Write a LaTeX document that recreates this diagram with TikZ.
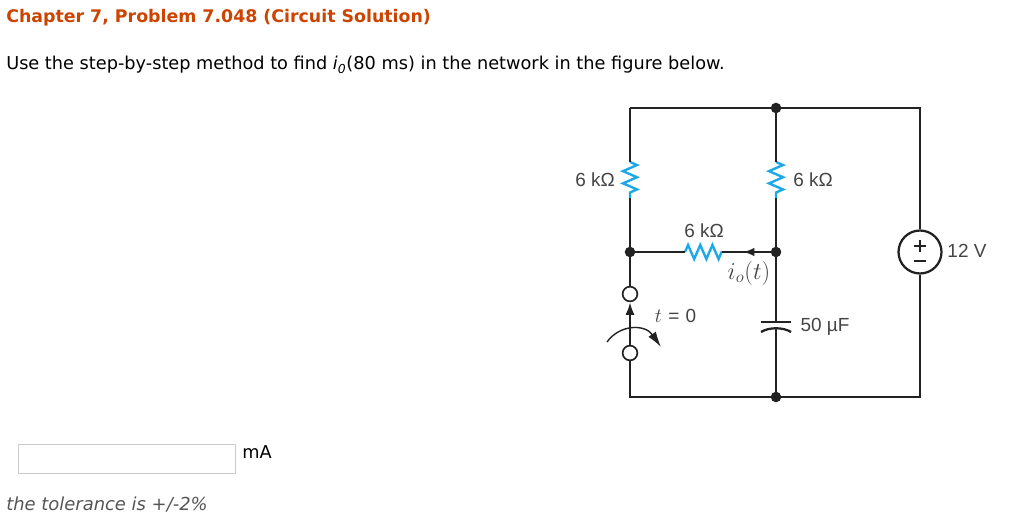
\documentclass[tikz,border=0pt]{standalone}
\usepackage{fontspec}
\setmainfont{DejaVu Sans}
\newfontfamily\figfont{Liberation Sans}
\usetikzlibrary{arrows.meta,positioning}
\usetikzlibrary{decorations.pathmorphing}
\definecolor{titlered}{HTML}{CC4400}
\definecolor{wirecol}{HTML}{222222}
\definecolor{labelcol}{HTML}{444444}
\definecolor{rescol}{HTML}{1DA8E8}
\definecolor{boxcol}{HTML}{CCCCCC}
\definecolor{tolcol}{HTML}{555555}
\tikzset{
  wire/.style={draw=wirecol,line width=2.1pt},
  res/.style={draw=rescol,line width=1.7pt,decorate,decoration={zigzag,segment length=12.2*0.711pt,amplitude=5pt}},
  dot/.style={circle,fill=wirecol,inner sep=0pt,minimum size=7.5pt},
  swnode/.style={circle,draw=wirecol,fill=white,line width=1.2pt,inner sep=0pt,minimum size=10.5pt},
  pagetext/.style={anchor=west,inner sep=0pt,font=\fontsize{12.6}{15}\selectfont,text=black},
  figlabel/.style={inner sep=0pt,text=labelcol,font=\figfont\fontsize{13.5}{15}\selectfont}
}
\begin{document}
\begin{tikzpicture}[x=0.025cm,y=-0.025cm]
\useasboundingbox (0,0) rectangle (1024,525);

% text of the question
\node[pagetext,text=titlered,font=\bfseries\fontsize{12.35}{15}\selectfont] (title) at (6,18) {Chapter 7, Problem 7.048 (Circuit Solution)};
\node[pagetext] (question) at (6,65) {Use the step-by-step method to find \textit{i\textsubscript{0}}(80 ms) in the network in the figure below.};
\node[draw=boxcol,line width=0.6pt,inner sep=0pt,minimum width=217*0.711pt,minimum height=29*0.711pt] (answer) at (127,458.5) {};
\node[pagetext] (unit) at (242,452) {mA};
\node[pagetext,text=tolcol,font=\itshape\fontsize{12.75}{15}\selectfont] (tol) at (6,505) {the tolerance is +/-2\%};

% corners and junctions
\coordinate (tl) at (630,108);
\coordinate (tr) at (920,108);
\coordinate (bl) at (630,397);
\coordinate (br) at (920,397);
\node[dot] (tm) at (776,108) {};
\node[dot] (bm) at (776,397) {};
\node[dot] (ml) at (630,252) {};
\node[dot] (mm) at (776,252) {};

% resistors
\coordinate (r1a) at (630,162);
\coordinate (r1b) at (630,198);
\coordinate (r2a) at (776,162);
\coordinate (r2b) at (776,198);
\coordinate (r3a) at (685,252);
\coordinate (r3b) at (722,252);
\draw[res] (r1a) -- (r1b);
\draw[res] (r2a) -- (r2b);
\draw[res] (r3a) -- (r3b);

% capacitor
\coordinate (c1) at (776,322);
\coordinate (c2) at (776,328);
\coordinate (c1l) at (761,322);
\coordinate (c1r) at (791,322);
\coordinate (c2l) at (761,332);
\coordinate (c2r) at (791,332);

% source and switch
\node[circle,draw=wirecol,fill=white,line width=1.6pt,inner sep=0pt,minimum size=43*0.711pt] (src) at (920,252) {};
\node[swnode] (s1) at (630,294) {};
\node[swnode] (s2) at (630,353) {};

\draw[wire] (tl) -- (tm.center) -- (tr) -- (src);
\draw[wire] (src) -- (br) -- (bm.center) -- (bl) -- (s2);
\draw[wire] (tl) -- (r1a);
\draw[wire] (r1b) -- (ml.center) -- (s1);
\draw[wire] (tm.center) -- (r2a);
\draw[wire] (r2b) -- (mm.center) -- (c1);
\draw[wire] (c2) -- (bm.center);
\draw[wire] (ml.center) -- (r3a);
\draw[wire] (r3b) -- (mm.center);
\draw[wire,line width=1.6pt] (c1l) -- (c1r);
\draw[wire,line width=1.6pt] (c2l) .. controls (769,327) and (783,327) .. (c2r);

% current arrow
\coordinate (ia) at (756,252);
\coordinate (ib) at (743,252);
\draw[wire,-{Latex[length=8pt,width=6pt]}] (ia) -- (ib);

% switch arrows
\draw[wire,line width=1.5pt,-{Latex[length=9pt,width=6.5pt]}] (s2) -- (s1);
\coordinate (a1) at (607,342);
\coordinate (a2) at (661,347);
\draw[wirecol,line width=1pt,-{Latex[length=11pt,width=6.5pt]}] (a1) .. controls (620,324) and (645,324) .. (a2);

% plus and minus of the source
\coordinate (p1) at (914,246);
\coordinate (p2) at (926,246);
\coordinate (p3) at (920,240);
\coordinate (p4) at (920,252);
\coordinate (m1) at (914,261);
\coordinate (m2) at (926,261);
\draw[wirecol,line width=0.9pt] (p1) -- (p2);
\draw[wirecol,line width=0.9pt] (p3) -- (p4);
\draw[wirecol,line width=0.9pt] (m1) -- (m2);

% values
\node[figlabel] (lr1) at (595,180) {6 kΩ};
\node[figlabel] (lr2) at (813,180) {6 kΩ};
\node[figlabel] (lr3) at (704,231) {6 kΩ};
\node[figlabel] (lsrc) at (967,251) {12 V};
\node[figlabel] (lcap) at (825,327) {50 µF};
\node[figlabel] (lsw) at (675.5,316) {$t$\,\,=\,\,0};
\node[figlabel,font=\fontsize{17.5}{19}\selectfont] (lio) at (749,273) {$i_o(t)$};
\end{tikzpicture}
\end{document}
